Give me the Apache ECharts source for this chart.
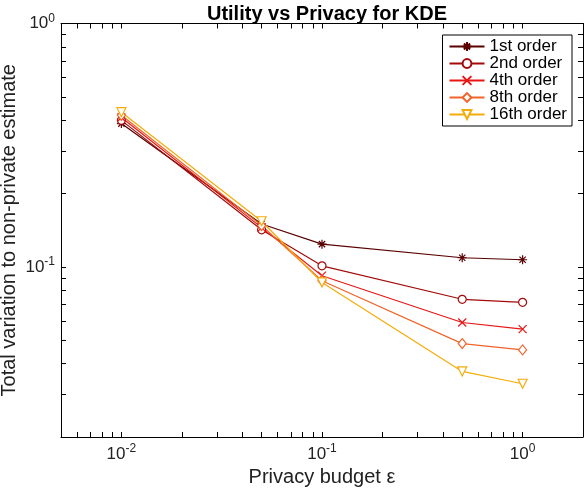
<!DOCTYPE html>
<html>
<head>
<meta charset="utf-8">
<script src="https://cdn.jsdelivr.net/npm/echarts@6/dist/echarts.min.js"></script>
<style>html,body{margin:0;padding:0;background:#fff}#c{width:587px;height:492px}</style>
</head>
<body>
<div id="c"></div>
<script>
const eps = [0.01, 0.05, 0.1, 0.5, 1];
const order1 = [0.388, 0.150, 0.124, 0.109, 0.107];
const order2 = [0.400, 0.142, 0.101, 0.0736, 0.0715];
const order4 = [0.411, 0.145, 0.092, 0.0591, 0.0555];
const order8 = [0.420, 0.148, 0.0877, 0.0484, 0.0456];
const order16 = [0.432, 0.154, 0.0863, 0.0372, 0.0331];
const seriesNames = ['1st order', '2nd order', '4th order', '8th order', '16th order'];
const xMajor = [0.01, 0.1, 1];
const yMajor = [0.1, 1];

const colors = ['#5a0000', '#a30a0a', '#e81515', '#f0642a', '#f5ac0a'];
const symbols = [
  'path://M0,5L10,5M5,0L5,10M1.5,1.5L8.5,8.5M8.5,1.5L1.5,8.5',
  'circle',
  'path://M0,0L10,10M10,0L0,10',
  'diamond',
  'path://M0,0L10,0L5,9Z'
];
const symbolSizes = [9, 8, 8, [8, 10], 9];
const allData = [order1, order2, order4, order8, order16];

function minorTicks(lo, hi) {
  const out = [];
  for (let d = Math.floor(Math.log10(lo)); d <= Math.ceil(Math.log10(hi)); d++) {
    for (let m = 1; m <= 9; m++) {
      const v = m * Math.pow(10, d);
      if (v >= lo * 0.999 && v <= hi * 1.001) out.push(+v.toPrecision(6));
    }
  }
  return out;
}
const xTicks = minorTicks(0.005, 2);
const yTicks = minorTicks(0.02, 1);

function fmt(v) {
  const e = Math.round(Math.log10(v));
  return '{b|10}{s|' + (e < 0 ? '-' + (-e) : e) + '}';
}
const rich = {
  b: {fontSize: 17, fontFamily: 'Liberation Sans', color: '#222'},
  s: {fontSize: 12, fontFamily: 'Liberation Sans', color: '#222', padding: [0, 0, 10, 0]}
};

const font = 'Liberation Sans';
function axisBase(pos, show, lo, hi, ticks, major) {
  return {
    type: 'log', logBase: 10, min: lo, max: hi, position: pos,
    axisLine: {show: true, onZero: false, lineStyle: {color: '#000', width: 1}},
    axisTick: {show: true, inside: true, length: 5, customValues: ticks, lineStyle: {color: '#000', width: 1}},
    minorTick: {show: false},
    splitLine: {show: false},
    axisLabel: show ? {show: true, customValues: major, formatter: fmt, rich: rich, margin: 6} : {show: false}
  };
}

const chart = echarts.init(document.getElementById('c'));
const xb = axisBase('bottom', true, 0.005, 2, xTicks, xMajor);
xb.name = 'Privacy budget ε';
xb.nameLocation = 'middle';
xb.nameGap = 30;
xb.nameMoveOverlap = false;
xb.nameTextStyle = {fontSize: 20, fontFamily: font, color: '#222'};
const yl = axisBase('left', true, 0.02, 1, yTicks, yMajor);
yl.name = 'Total variation to non-private estimate';
yl.nameLocation = 'middle';
yl.nameGap = 42;
yl.nameMoveOverlap = false;
yl.nameTextStyle = {fontSize: 20, fontFamily: font, color: '#222'};

chart.setOption({
  animation: false,
  backgroundColor: '#fff',
  title: {
    text: 'Utility vs Privacy for KDE', left: 322, top: -1, textAlign: 'center',
    textStyle: {fontSize: 20, fontWeight: 'bold', fontFamily: font, color: '#000'}
  },
  grid: {left: 61, right: 4, top: 23.5, bottom: 55, containLabel: false, outerBoundsMode: 'none'},
  xAxis: [xb, axisBase('top', false, 0.005, 2, xTicks, xMajor)],
  yAxis: [yl, axisBase('right', false, 0.02, 1, yTicks, yMajor)],
  legend: {
    show: true, right: 15, top: 35, orient: 'vertical',
    backgroundColor: '#fff', borderColor: '#000', borderWidth: 1, borderRadius: 0,
    padding: [3, 5, 3, 6], itemGap: 0, itemWidth: 35, itemHeight: 11,
    textStyle: {fontSize: 17, fontFamily: font, color: '#000', lineHeight: 16},
    data: seriesNames
  },
  series: seriesNames.map((n, i) => ({
    name: n, type: 'line', xAxisIndex: 0, yAxisIndex: 0,
    data: eps.map((x, j) => [x, allData[i][j]]),
    symbol: symbols[i], symbolSize: symbolSizes[i], showAllSymbol: true,
    lineStyle: {color: colors[i], width: 1.2},
    itemStyle: {color: i === 0 || i === 2 ? colors[i] : '#fff', borderColor: colors[i], borderWidth: 1.2},
    emphasis: {disabled: true}
  }))
});
</script>
</body>
</html>
